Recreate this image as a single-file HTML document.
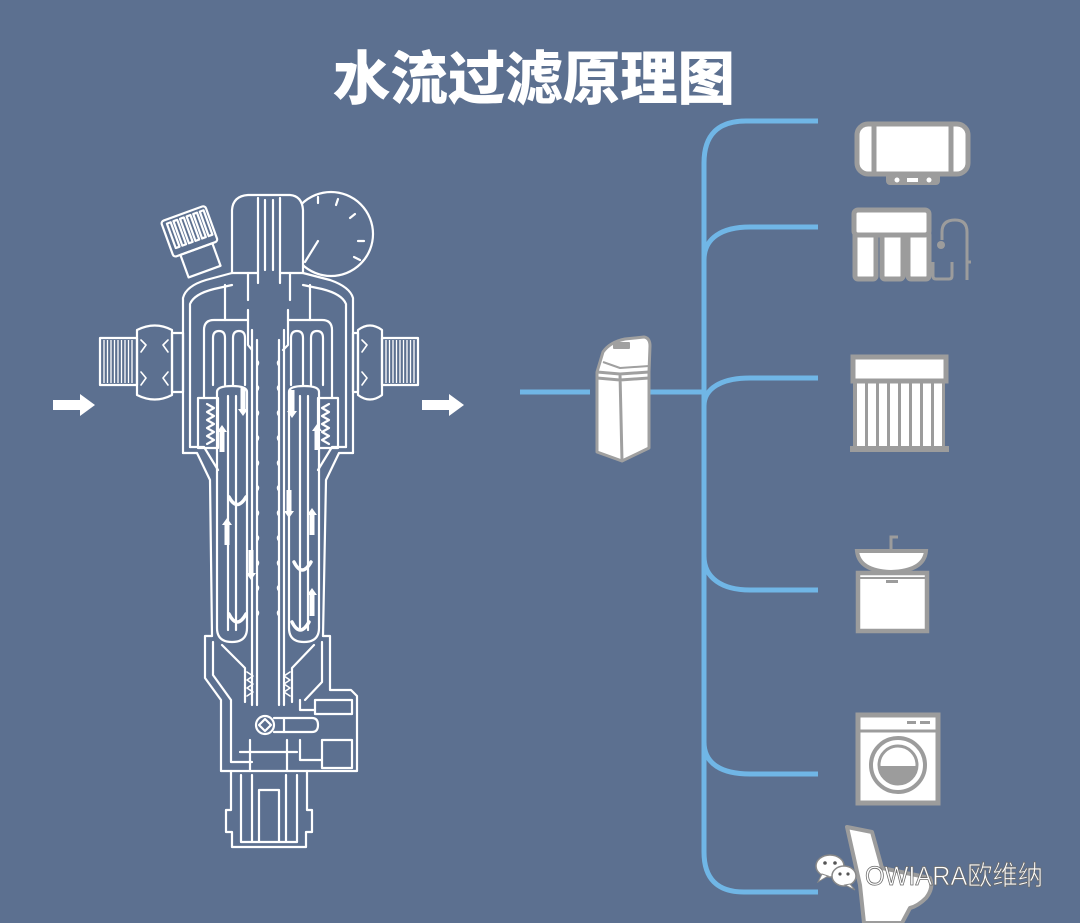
<!DOCTYPE html>
<html><head><meta charset="utf-8"><style>
html,body{margin:0;padding:0;background:#5c7090;}
svg{display:block;}
</style></head><body>
<svg width="1080" height="923" viewBox="0 0 1080 923" xmlns="http://www.w3.org/2000/svg">
<rect width="1080" height="923" fill="#5c7090"/>
<text x="333" y="99" font-family="'Liberation Sans','Noto Sans CJK SC',sans-serif" font-weight="900" font-size="58" fill="#fff" textLength="402" lengthAdjust="spacingAndGlyphs">水流过滤原理图</text>

<!-- pipes -->
<g stroke="#70b6e6" stroke-width="5" fill="none">
<path d="M818,121 L746,121 Q704,121 704,163 L704,852 Q704,892 744,892 L818,892"/>
<path d="M704,260 C704,238 722,227 750,227 L818,227"/>
<path d="M704,406 C704,388 722,378 750,378 L818,378"/>
<path d="M704,556 C704,578 722,590 750,590 L818,590"/>
<path d="M704,742 C704,764 722,774 750,774 L818,774"/>
<path d="M520,392 L590,392 M650,392 L704,392"/>
</g>

<!-- softener -->
<g stroke="#a0a0a0" stroke-width="3" fill="#fff" stroke-linejoin="round">
<path d="M597,372 L603,352 Q610,342 625,339 L644,337 Q650,338 650,346 L649,372 L649,448 L622,461 L597,452 Z"/>
<path d="M597,372 L620,374 L649,372 M597,378 L620,380 L649,378 M620,374 L622,461" fill="none"/>
<path d="M603,362 L620,368 L649,366" fill="none" stroke-width="2"/>
<rect x="613" y="342" width="17" height="7" rx="1" fill="#a0a0a0" stroke="none"/>
</g>

<!-- water heater -->
<g stroke="#9c9c9c" stroke-width="5" fill="#fff">
<rect x="886" y="170" width="54" height="15" rx="4" fill="#9c9c9c" stroke="none"/>
<circle cx="897" cy="180" r="2.5" fill="#fff" stroke="none"/>
<rect x="907" y="178" width="11" height="4" fill="#fff" stroke="none"/>
<circle cx="929" cy="180" r="2.5" fill="#fff" stroke="none"/>
<rect x="857" y="124" width="111" height="50" rx="11"/>
<line x1="874" y1="124" x2="874" y2="174"/>
<line x1="951" y1="124" x2="951" y2="174"/>
</g>

<!-- RO filter -->
<g stroke="#9c9c9c" stroke-width="5" fill="#fff">
<rect x="855" y="232" width="21" height="47" rx="3"/>
<rect x="882" y="232" width="21" height="47" rx="3"/>
<rect x="908" y="232" width="21" height="47" rx="3"/>
<rect x="854" y="210" width="75" height="25" rx="4"/>
</g>
<g stroke="#9c9c9c" stroke-width="3" fill="none">
<path d="M967,280 L967,232 Q967,220 955,220 Q942,220 942,232 L942,240"/>
<path d="M933,262 L933,276 Q933,279 936,279 L949,279 Q952,279 952,276 L952,262"/>
<line x1="967" y1="262" x2="971" y2="262"/>
</g>
<circle cx="941" cy="245" r="4" fill="#9c9c9c"/>

<!-- tank -->
<g>
<rect x="853" y="380" width="92" height="68" fill="#9c9c9c"/>
<g fill="#fff">
<rect x="857" y="382" width="8" height="64"/>
<rect x="868" y="382" width="8" height="64"/>
<rect x="879" y="382" width="8" height="64"/>
<rect x="890" y="382" width="8" height="64"/>
<rect x="901" y="382" width="8" height="64"/>
<rect x="912" y="382" width="8" height="64"/>
<rect x="923" y="382" width="8" height="64"/>
<rect x="934" y="382" width="8" height="64"/>
</g>
<rect x="850" y="446" width="99" height="6" fill="#9c9c9c"/>
<rect x="853" y="357" width="93" height="24" fill="#fff" stroke="#9c9c9c" stroke-width="5"/>
</g>

<!-- sink -->
<g stroke="#9c9c9c" fill="#fff">
<path d="M891,552 L891,537 L898,537" fill="none" stroke-width="3"/>
<path d="M857,551 L926,551 Q924,571 891,572 Q859,571 857,551 Z" stroke-width="4"/>
<rect x="858" y="573" width="69" height="58" stroke-width="4.5"/>
<line x1="858" y1="578" x2="927" y2="578" stroke-width="2"/>
<rect x="886" y="580" width="12" height="3" fill="#9c9c9c" stroke="none"/>
</g>

<!-- washer -->
<g stroke="#9c9c9c" fill="#fff">
<rect x="858" y="715" width="80" height="88" stroke-width="5"/>
<line x1="858" y1="731" x2="938" y2="731" stroke-width="3"/>
<rect x="907" y="721" width="9" height="3" fill="#9c9c9c" stroke="none"/>
<rect x="920" y="721" width="10" height="3" fill="#9c9c9c" stroke="none"/>
<circle cx="898" cy="765" r="27" stroke-width="4"/>
<circle cx="898" cy="765" r="19" stroke-width="3"/>
<path d="M879,766 L917,766 A19,19 0 0 1 879,766 Z" fill="#9c9c9c" stroke="none"/>
</g>

<!-- toilet -->
<path d="M847,827 L872,832 L882,868 L930,878 Q934,888 926,898 Q918,906 910,908 L902,923 L864,923 L860,885 Z" fill="#fff" stroke="#9c9c9c" stroke-width="4" stroke-linejoin="round"/>

<!-- watermark -->
<g>
<ellipse cx="830" cy="866" rx="14" ry="11" fill="#fff" stroke="#888" stroke-width="1.5"/>
<path d="M822,874 L818,882 L828,876 Z" fill="#fff" stroke="#888" stroke-width="1"/>
<circle cx="825" cy="863" r="1.8" fill="#555"/><circle cx="835" cy="863" r="1.8" fill="#555"/>
<ellipse cx="844" cy="876" rx="12" ry="10" fill="#fff" stroke="#888" stroke-width="1.5"/>
<path d="M850,884 L855,890 L845,885 Z" fill="#fff" stroke="#888" stroke-width="1"/>
<circle cx="840" cy="874" r="1.6" fill="#555"/><circle cx="848" cy="874" r="1.6" fill="#555"/>
<text x="865" y="885" font-family="'Liberation Sans','Noto Sans CJK SC',sans-serif" font-size="27" fill="#fff" stroke="#6a6a6a" stroke-width="0.8" textLength="178" lengthAdjust="spacingAndGlyphs">OWIARA欧维纳</text>
</g>

<!-- arrows in/out -->
<polygon points="53,400 80,400 80,394 95,405 80,416 80,410 53,410" fill="#fff"/>
<polygon points="422,400 449,400 449,394 464,405 449,416 449,410 422,410" fill="#fff"/>

<!-- filter drawing -->
<g fill="none" stroke="#fff" stroke-width="2.2" stroke-linejoin="round" stroke-linecap="round">
<!-- gauge -->
<circle cx="331" cy="234" r="42"/>
<line x1="318" y1="197" x2="318" y2="203"/>
<line x1="338" y1="199" x2="336" y2="205"/>
<line x1="355" y1="214" x2="350" y2="218"/>
<line x1="364" y1="241" x2="358" y2="241"/>
<line x1="360" y1="260" x2="354" y2="257"/>
<line x1="305" y1="262" x2="318" y2="241"/>
<!-- knob -->
<g transform="rotate(-20 192 240)">
<rect x="169" y="212" width="47" height="38" rx="3"/>
<rect x="174" y="216" width="4" height="26"/>
<rect x="181" y="216" width="4" height="26"/>
<rect x="188" y="216" width="4" height="26"/>
<rect x="195" y="216" width="4" height="26"/>
<rect x="202" y="216" width="4" height="26"/>
<rect x="209" y="216" width="4" height="26"/>
<rect x="176" y="250" width="34" height="24"/>
</g>
<!-- cap -->
<path d="M232,273 L232,210 Q233,196 248,195 L290,195 Q302,196 303,210 L303,273" fill="#5c7090"/>
<path d="M258,198 L258,283 M280,198 L280,283 M265,200 L265,270 M273,200 L273,270"/>
<path d="M232,273 L258,273 M280,273 L303,273"/>
<path d="M248,273 L248,300 M290,273 L290,300"/>
<!-- body -->
<path d="M183,453 L183,298 Q186,286 206,280 L232,273 M303,273 L330,280 Q350,287 353,298 L353,453"/>
<path d="M190,447 L190,304 Q194,294 214,289 L232,285 M303,285 L322,289 Q342,294 346,304 L346,447"/>
<path d="M225,285 L225,320 M310,285 L310,320"/>
<path d="M183,453 L197,453 L210,480 L212,636 M353,453 L339,453 L326,480 L323,636"/>
<path d="M190,447 L204,447 L218,470 M346,447 L332,447 L318,470"/>
<!-- manifold -->
<path d="M204,398 L204,330 Q204,320 214,320 L248,320 M288,320 L322,320 Q332,320 332,330 L332,398"/>
<path d="M213,385 L213,338 Q213,331 219,331 Q225,331 225,338 L225,385"/>
<path d="M233,385 L233,338 Q233,331 239,331 Q245,331 245,338 L245,385"/>
<path d="M291,385 L291,338 Q291,331 297,331 Q303,331 303,338 L303,385"/>
<path d="M311,385 L311,338 Q311,331 317,331 Q323,331 323,338 L323,385"/>
<path d="M248,310 L248,345 L252,350 M288,310 L288,345 L283,350"/>
<!-- thread collars -->
<rect x="198" y="398" width="20" height="50"/>
<polyline points="207,404 214,408 207,412 214,416 207,420 214,424 207,428 214,432 207,436 214,440 207,444"/>
<rect x="318" y="398" width="20" height="50"/>
<polyline points="329,404 322,408 329,412 322,416 329,420 322,424 329,428 322,432 329,436 322,440 329,444"/>
<!-- cartridges -->
<path d="M217,392 L217,628 Q217,642 232,642 Q247,642 247,628 L247,392 Q247,386 232,386 Q217,386 217,392"/>
<path d="M228,396 L228,630 M236,396 L236,630"/>
<path d="M289,392 L289,628 Q289,642 304,642 Q319,642 319,628 L319,392 Q319,386 304,386 Q289,386 289,392"/>
<path d="M300,396 L300,630 M308,396 L308,630"/>
<!-- central tube -->
<path d="M252,330 L252,705 M257,340 L257,705 M279,340 L279,705 M284,330 L284,705"/>
<path d="M257,360 q3,3 0,6 M257,385 q3,3 0,6 M257,410 q3,3 0,6 M257,435 q3,3 0,6 M257,460 q3,3 0,6 M257,485 q3,3 0,6 M257,510 q3,3 0,6 M257,535 q3,3 0,6 M257,560 q3,3 0,6 M257,585 q3,3 0,6 M257,610 q3,3 0,6" stroke-width="1.5"/>
<path d="M279,360 q-3,3 0,6 M279,385 q-3,3 0,6 M279,410 q-3,3 0,6 M279,435 q-3,3 0,6 M279,460 q-3,3 0,6 M279,485 q-3,3 0,6 M279,510 q-3,3 0,6 M279,535 q-3,3 0,6 M279,560 q-3,3 0,6 M279,585 q-3,3 0,6 M279,610 q-3,3 0,6" stroke-width="1.5"/>
<!-- lower body -->
<path d="M212,636 L205,636 L205,678 L221,700 L221,771 L357,771 L357,696 L351,690 L330,690 L330,636 L323,636"/>
<path d="M213,642 L213,675 L231,700 L231,762 L252,762"/>
<path d="M322,642 L322,682 L305,700"/>
<path d="M222,645 L245,668 L245,702 M314,645 L292,668 L292,702"/>
<polyline points="247,672 253,676 247,680 253,684 247,688 253,692 247,696" stroke-width="1.6"/>
<polyline points="290,672 284,676 290,680 284,684 290,688 284,692 290,696" stroke-width="1.6"/>
<circle cx="265" cy="725" r="9"/>
<path d="M265,719 L271,725 L265,731 L259,725 Z"/>
<path d="M274,718 L312,718 Q318,718 318,725 Q318,732 312,732 L274,732"/>
<path d="M284,718 L284,732"/>
<rect x="315" y="700" width="37" height="14"/>
<rect x="322" y="740" width="30" height="28"/>
<path d="M300,700 L300,710 L315,710 M300,740 L300,760 L322,760"/>
<path d="M250,740 L250,771 M287,740 L287,771 M240,752 L297,752"/>
<!-- stem -->
<path d="M231,771 L231,810 L226,810 L226,832 L232,832 L232,847 L306,847 L306,832 L312,832 L312,810 L307,810 L307,771"/>
<path d="M241,775 L241,842 L297,842 L297,775 M252,775 L252,842 M286,775 L286,842 M259,790 L259,842 M279,790 L279,842 M259,790 L279,790"/>
<!-- connectors -->
<path d="M137,330 Q155,321 172,330 L172,395 Q155,404 137,395 Z"/>
<path d="M141,340 L146,345 L141,352 M141,372 L146,378 L141,385 M168,340 L163,345 L168,352 M168,372 L163,378 L168,385" stroke-width="1.6"/>
<rect x="172" y="333" width="11" height="59"/>
<rect x="100" y="338" width="37" height="47"/>
<rect x="353" y="333" width="5" height="59"/>
<path d="M358,330 Q370,321 382,330 L382,395 Q370,404 358,395 Z"/>
<path d="M362,340 L367,345 L362,352 M362,372 L367,378 L362,385" stroke-width="1.6"/>
<rect x="382" y="338" width="36" height="47"/>
</g>
<g stroke="#fff" stroke-width="1.3">
<path d="M104,340 V383 M107.5,340 V383 M111,340 V383 M114.5,340 V383 M118,340 V383 M121.5,340 V383 M125,340 V383 M128.5,340 V383 M132,340 V383"/>
<path d="M386,340 V383 M389.5,340 V383 M393,340 V383 M396.5,340 V383 M400,340 V383 M403.5,340 V383 M407,340 V383 M410.5,340 V383 M414,340 V383"/>
</g>

<!-- flow arrows -->
<g fill="#fff">
<polygon points="219.5,452 219.5,432 217,432 222,425 227,432 224.5,432 224.5,452"/>
<polygon points="224.5,545 224.5,525 222,525 227,518 232,525 229.5,525 229.5,545"/>
<polygon points="314.5,450 314.5,431 312,431 317,424 322,431 319.5,431 319.5,450"/>
<polygon points="309.5,535 309.5,515 307,515 312,508 317,515 314.5,515 314.5,535"/>
<polygon points="309.5,616 309.5,595 307,595 312,588 317,595 314.5,595 314.5,616"/>
<polygon points="240.5,388 240.5,409 238,409 243,416 248,409 245.5,409 245.5,388"/>
<polygon points="248.5,550 248.5,573 246,573 251,580 256,573 253.5,573 253.5,550"/>
<polygon points="289.5,390 289.5,411 287,411 292,418 297,411 294.5,411 294.5,390"/>
<polygon points="286.5,490 286.5,511 284,511 289,518 294,511 291.5,511 291.5,490"/>
</g>
<g fill="none" stroke="#fff" stroke-width="3.5" stroke-linecap="round">
<path d="M229,497 Q237,512 246,497"/>
<path d="M229,614 Q237,630 246,614"/>
<path d="M294,562 Q302,578 311,562"/>
<path d="M292,622 Q300,638 309,622"/>
</g>
</svg>
</body></html>
